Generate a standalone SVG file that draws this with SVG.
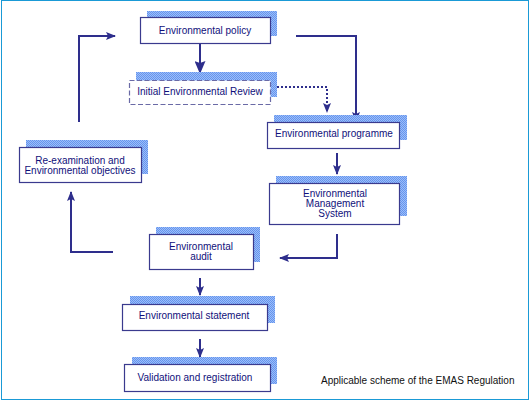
<svg xmlns="http://www.w3.org/2000/svg" width="530" height="401" viewBox="0 0 530 401">
<defs>
<pattern id="chk" width="2" height="2" patternUnits="userSpaceOnUse">
<rect width="2" height="2" fill="#9cbef8"/>
<rect width="1" height="1" fill="#6594ee"/>
<rect x="1" y="1" width="1" height="1" fill="#6594ee"/>
</pattern>
<marker id="ah" viewBox="0 0 10 8" refX="9" refY="4" markerWidth="10" markerHeight="8" markerUnits="userSpaceOnUse" orient="auto">
<path d="M0,0 L10,4 L0,8 L2,4 z" fill="#2e2e8c"/>
</marker>
<marker id="ahb" viewBox="0 0 13 11" refX="12" refY="5.5" markerWidth="13" markerHeight="11" markerUnits="userSpaceOnUse" orient="auto">
<path d="M0,0 L13,5.5 L0,11 L2,5.5 z" fill="#2e2e8c"/>
</marker>
</defs>
<style>
.sh{fill:url(#chk)}
.bx{fill:#fff;stroke:#3a3a8e;stroke-width:1.2}
.dbx{fill:#fff;stroke:#6a6aa6;stroke-width:1.2;stroke-dasharray:5,2.5}
.t{font-family:"Liberation Sans",Arial,sans-serif;font-size:10px;fill:#10107a;text-anchor:middle}
.c{fill:none;stroke:#2e2e8c;stroke-width:2}
.frame{stroke:#1a9ad6;stroke-width:1;fill:none}
</style>
<rect width="530" height="401" fill="#fff"/>
<g id="frame" class="frame">
<line x1="1" y1="0.5" x2="529" y2="0.5"/>
<line x1="1.5" y1="0" x2="1.5" y2="400"/>
<line x1="528.5" y1="0" x2="528.5" y2="400"/>
<line x1="1" y1="399.5" x2="529" y2="399.5"/>
</g>
<g id="connectors">
<path class="c" d="M200,44 V73" marker-end="url(#ahb)"/>
<path class="c" d="M296,36 H356 V121" marker-end="url(#ah)"/>
<path class="c" d="M277,87 H327 V112" stroke-dasharray="2,2" marker-end="url(#ah)"/>
<path class="c" d="M337,153 V174" marker-end="url(#ah)"/>
<path class="c" d="M337,234 V258 H280" marker-end="url(#ah)"/>
<path class="c" d="M200,278 V295" marker-end="url(#ah)"/>
<path class="c" d="M200,339 V357" marker-end="url(#ah)"/>
<path class="c" d="M113,252 H71 V192" marker-end="url(#ah)"/>
<path class="c" d="M79,122 V36 H115" marker-end="url(#ah)"/>
</g>
<g id="policy">
<rect class="sh" x="147" y="11" width="130" height="25"/>
<rect class="bx" x="140.5" y="17.5" width="130" height="26"/>
<text class="t" x="205" y="34">Environmental policy</text>
</g>
<g id="review">
<rect class="sh" x="136" y="72" width="141" height="25"/>
<rect class="dbx" x="129.5" y="80.5" width="141" height="24"/>
<text class="t" x="200" y="95">Initial Environmental Review</text>
</g>
<g id="programme">
<rect class="sh" x="274" y="115" width="133" height="25"/>
<rect class="bx" x="267.5" y="122.5" width="132" height="26"/>
<text class="t" x="334" y="137">Environmental programme</text>
</g>
<g id="ems">
<rect class="sh" x="276" y="176" width="131" height="40"/>
<rect class="bx" x="269.5" y="183.5" width="130" height="41"/>
<text class="t" x="335" y="197">Environmental</text>
<text class="t" x="335" y="207">Management</text>
<text class="t" x="335" y="217">System</text>
</g>
<g id="audit">
<rect class="sh" x="156" y="227" width="104" height="35"/>
<rect class="bx" x="149.5" y="234.5" width="104" height="35"/>
<text class="t" x="201" y="250">Environmental</text>
<text class="t" x="201" y="260">audit</text>
</g>
<g id="reexam">
<rect class="sh" x="26" y="140" width="122" height="34"/>
<rect class="bx" x="19.5" y="147.5" width="122" height="35"/>
<text class="t" x="80" y="164">Re-examination and</text>
<text class="t" x="80" y="174">Environmental objectives</text>
</g>
<g id="statement">
<rect class="sh" x="130" y="296" width="145" height="27"/>
<rect class="bx" x="122.5" y="304.5" width="145" height="26"/>
<text class="t" x="194" y="319">Environmental statement</text>
</g>
<g id="validation">
<rect class="sh" x="132" y="357" width="145" height="27"/>
<rect class="bx" x="124.5" y="364.5" width="146" height="27"/>
<text class="t" x="195" y="381">Validation and registration</text>
</g>
<text x="321" y="384" font-family="'Liberation Sans',Arial,sans-serif" font-size="10" fill="#111">Applicable scheme of the EMAS Regulation</text>
</svg>
